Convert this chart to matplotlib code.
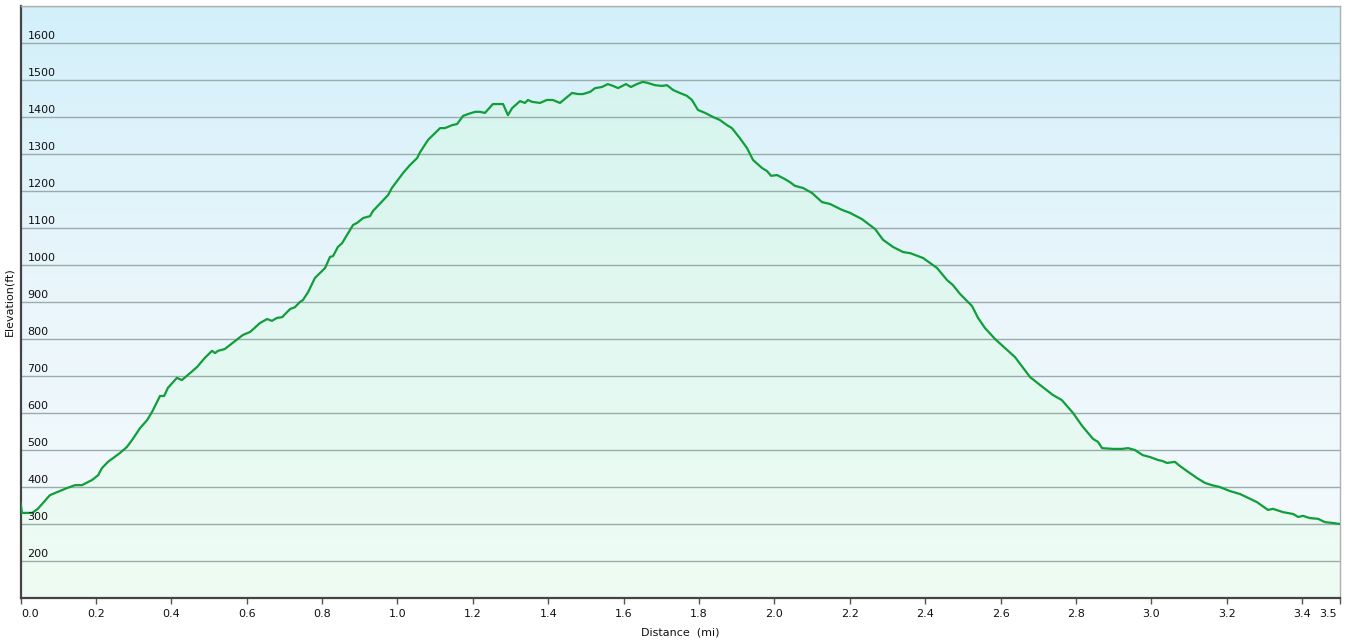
import numpy as np
import matplotlib
matplotlib.use("Agg")
import matplotlib.pyplot as plt
from matplotlib.colors import LinearSegmentedColormap
import matplotlib.transforms as mtransforms

distance_mi = [
    0.000, 0.004, 0.031, 0.046, 0.060, 0.078, 0.097, 0.123, 0.145, 0.163,
    0.190, 0.206, 0.216, 0.232, 0.264, 0.282, 0.296, 0.317, 0.336, 0.349,
    0.370, 0.381, 0.391, 0.415, 0.428, 0.450, 0.468, 0.489, 0.508, 0.516,
    0.524, 0.542, 0.590, 0.609, 0.635, 0.654, 0.667, 0.680, 0.694, 0.715,
    0.728, 0.741, 0.749, 0.763, 0.781, 0.808, 0.821, 0.829, 0.842, 0.853,
    0.882, 0.893, 0.909, 0.927, 0.935, 0.975, 0.985, 1.015, 1.033, 1.052,
    1.060, 1.081, 1.113, 1.126, 1.145, 1.158, 1.174, 1.187, 1.206, 1.219,
    1.232, 1.253, 1.280, 1.293, 1.304, 1.325, 1.338, 1.346, 1.357, 1.378,
    1.396, 1.412, 1.431, 1.444, 1.463, 1.479, 1.492, 1.511, 1.524, 1.542,
    1.558, 1.572, 1.585, 1.606, 1.619, 1.635, 1.651, 1.664, 1.683, 1.701,
    1.715, 1.731, 1.749, 1.768, 1.781, 1.797, 1.816, 1.837, 1.855, 1.874,
    1.887, 1.908, 1.927, 1.943, 1.967, 1.980, 1.991, 2.007, 2.028, 2.041,
    2.054, 2.076, 2.099, 2.126, 2.147, 2.179, 2.200, 2.232, 2.267, 2.288,
    2.314, 2.341, 2.360, 2.394, 2.413, 2.431, 2.458, 2.473, 2.492, 2.524,
    2.540, 2.558, 2.585, 2.638, 2.678, 2.704, 2.738, 2.762, 2.792, 2.816,
    2.845, 2.858, 2.869, 2.898, 2.922, 2.938, 2.956, 2.977, 2.996, 3.017,
    3.030, 3.041, 3.062, 3.075, 3.097, 3.121, 3.142, 3.160, 3.181, 3.208,
    3.235, 3.280, 3.309, 3.322, 3.349, 3.376, 3.389, 3.402, 3.420, 3.442,
    3.460, 3.479, 3.500,
]

elevation_ft = [
    357, 330, 330, 341, 357, 378, 386, 397, 405, 405,
    419, 432, 451, 468, 492, 508, 527, 559, 581, 603,
    646, 646, 668, 695, 689, 708, 724, 749, 768, 762,
    768, 773, 811, 819, 843, 854, 849, 857, 859, 881,
    886, 900, 905, 927, 965, 992, 1022, 1024, 1049, 1059,
    1108, 1114, 1127, 1132, 1146, 1189, 1208, 1249, 1270, 1289,
    1305, 1338, 1370, 1370, 1378, 1381, 1403, 1408, 1414, 1414,
    1411, 1435, 1435, 1405, 1424, 1443, 1438, 1446, 1441, 1438,
    1446, 1446, 1438, 1449, 1465, 1462, 1462, 1468, 1478, 1481,
    1489, 1484, 1478, 1489, 1481, 1489, 1495, 1492, 1486, 1484,
    1486, 1473, 1465, 1457, 1446, 1419, 1411, 1400, 1392, 1378,
    1370, 1343, 1316, 1284, 1262, 1254, 1241, 1243, 1232, 1224,
    1214, 1208, 1195, 1170, 1165, 1149, 1141, 1124, 1097, 1068,
    1049, 1035, 1032, 1019, 1005, 992, 959, 946, 922, 889,
    857, 830, 800, 751, 697, 676, 649, 635, 600, 565,
    530, 522, 505, 503, 503, 505, 500, 486, 481, 473,
    470, 465, 468, 457, 441, 424, 411, 405, 400, 389,
    381, 359, 338, 341, 332, 327, 319, 322, 316, 314,
    305, 303, 300,
]

y_ticks = [200, 300, 400, 500, 600, 700, 800, 900, 1000, 1100, 1200, 1300, 1400, 1500, 1600]
x_ticks = [0.0, 0.2, 0.4, 0.6, 0.8, 1.0, 1.2, 1.4, 1.6, 1.8, 2.0, 2.2, 2.4, 2.6, 2.8, 3.0, 3.2, 3.4, 3.5]
x_min, x_max = 0.0, 3.5
y_min, y_max = 100, 1700

W, H = 1346, 641
fig = plt.figure(figsize=(W / 100, H / 100), dpi=100)
fig.patch.set_facecolor("white")
ax = fig.add_axes([20.5 / W, (H - 598) / H, (1340 - 20.5) / W, (598 - 6) / H])
ax.set_xlim(x_min, x_max)
ax.set_ylim(y_min, y_max)

# background gradient
bg_cmap = LinearSegmentedColormap.from_list("bg", ["#f6fbfd", "#eaf6fb", "#d3f0fa"])
grad = np.linspace(0, 1, 256).reshape(-1, 1)
ax.imshow(grad, extent=[x_min, x_max, y_min, y_max], origin="lower", aspect="auto",
          cmap=bg_cmap, zorder=0, interpolation="bicubic")

# fill gradient under curve
fill_cmap = LinearSegmentedColormap.from_list("fill", ["#effcf4", "#e0f8f0", "#d3f3ee"])
poly = ax.fill_between(distance_mi, elevation_ft, y_min, color="none", zorder=1)
im = ax.imshow(grad, extent=[x_min, x_max, y_min, y_max], origin="lower", aspect="auto",
               cmap=fill_cmap, zorder=1, interpolation="bicubic")
im.set_clip_path(poly.get_paths()[0], transform=ax.transData)

# gridlines
for yv in y_ticks + [y_max]:
    ax.axhline(yv, color="#9aabab", lw=1.0, zorder=2)

ax.plot(distance_mi, elevation_ft, color="#0f9e3a", lw=1.6, zorder=3,
        solid_joinstyle="round")

# y tick labels inside plot
ax.set_yticks([])
lab_tr = mtransforms.offset_copy(ax.get_yaxis_transform(), fig=fig, x=7, y=2, units="dots")
for yv in y_ticks:
    ax.text(0, yv, f"{yv}", transform=lab_tr, ha="left", va="bottom",
            fontsize=8, color="#111111", zorder=4)

# x ticks
ax.set_xticks(x_ticks)
ax.set_xticklabels([f"{v:.1f}" for v in x_ticks], fontsize=8, color="#111111")
ax.tick_params(axis="x", direction="out", length=4, width=1, color="#555555", pad=4)
tl = ax.get_xticklabels()
tl[0].set_horizontalalignment("left")
tl[-1].set_horizontalalignment("right")
tl[0].set_transform(tl[0].get_transform() + mtransforms.ScaledTranslation(1 / 100, 0, fig.dpi_scale_trans))
tl[-1].set_transform(tl[-1].get_transform() + mtransforms.ScaledTranslation(-3 / 100, 0, fig.dpi_scale_trans))

ax.set_xlabel("Distance  (mi)", fontsize=8, color="#111111", labelpad=6)
ax.set_ylabel("Elevation(ft)", fontsize=8, color="#111111")
ax.yaxis.set_label_coords(-6 / (1340 - 20.5), 0.5)

for s in ["left", "bottom"]:
    ax.spines[s].set_color("#444444")
    ax.spines[s].set_linewidth(1.6)
for s in ["top", "right"]:
    ax.spines[s].set_color("#b0b0b0")
    ax.spines[s].set_linewidth(1.0)

fig.savefig("out.png", dpi=100)
